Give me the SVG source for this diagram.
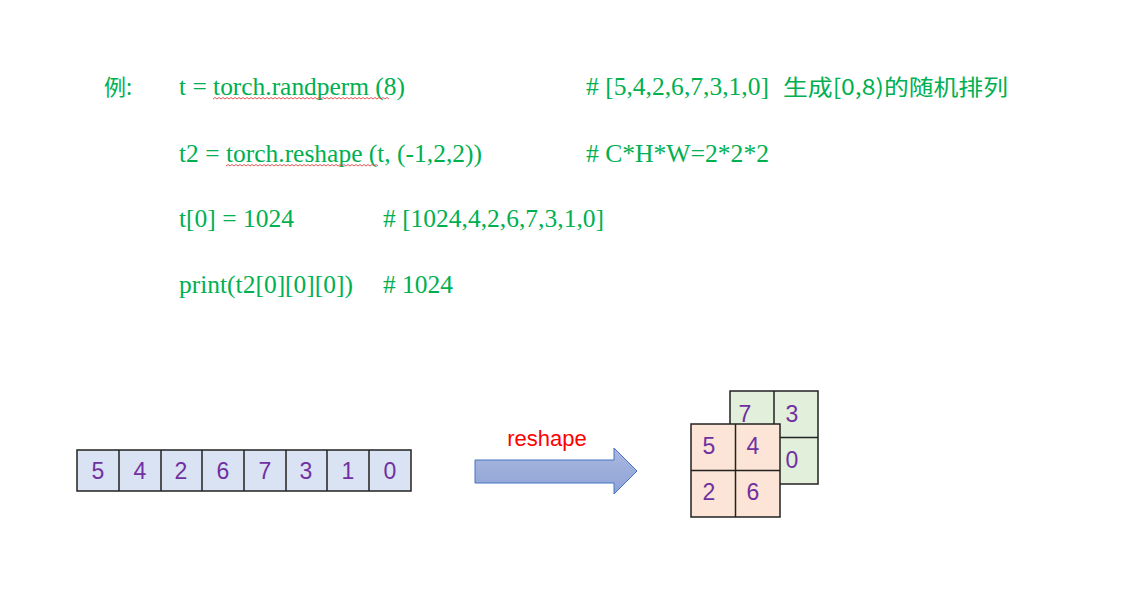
<svg xmlns="http://www.w3.org/2000/svg" width="1121" height="595" viewBox="0 0 1121 595">
<defs>
<style>
.code{font-family:"Liberation Serif","Noto Sans CJK SC",serif;font-size:25px;fill:#00B050}
.cjk{font-family:"Noto Sans CJK SC",sans-serif;font-size:22px;fill:#00B050}
.num{font-family:"Liberation Sans",Arial,sans-serif;font-size:23px;fill:#7030A0;text-anchor:middle}
.cell{stroke:#222;stroke-width:1.5}
.wavy{fill:none;stroke:#e03030;stroke-width:0.8}
</style>
<linearGradient id="ag" x1="0" y1="0" x2="0" y2="1">
<stop offset="0" stop-color="#a9b8e0"/><stop offset="1" stop-color="#8fa3d6"/>
</linearGradient>
</defs>
<rect width="1121" height="595" fill="#fff"/>
<g id="code">
<text class="cjk" x="104" y="95">例:</text>
<text class="code" x="179" y="95" textLength="226" lengthAdjust="spacingAndGlyphs">t = torch.randperm (8)</text>
<text class="code" x="586" y="95" textLength="183" lengthAdjust="spacingAndGlyphs">#  [5,4,2,6,7,3,1,0]</text>
<text class="cjk" x="783" y="95" textLength="225" lengthAdjust="spacingAndGlyphs">生成[0,8)的随机排列</text>
<text class="code" x="179" y="162" textLength="303" lengthAdjust="spacingAndGlyphs">t2 = torch.reshape (t, (-1,2,2))</text>
<text class="code" x="586" y="162" textLength="183" lengthAdjust="spacingAndGlyphs">#  C*H*W=2*2*2</text>
<text class="code" x="179" y="227" textLength="115" lengthAdjust="spacingAndGlyphs">t[0] = 1024</text>
<text class="code" x="383" y="227" textLength="221" lengthAdjust="spacingAndGlyphs">#  [1024,4,2,6,7,3,1,0]</text>
<text class="code" x="179" y="293" textLength="174" lengthAdjust="spacingAndGlyphs">print(t2[0][0][0])</text>
<text class="code" x="383" y="293" textLength="70" lengthAdjust="spacingAndGlyphs">#  1024</text>
<path class="wavy" d="M213 99l2 -1.5l2 1.5l2 -1.5l2 1.5l2 -1.5l2 1.5l2 -1.5l2 1.5l2 -1.5l2 1.5l2 -1.5l2 1.5l2 -1.5l2 1.5l2 -1.5l2 1.5l2 -1.5l2 1.5l2 -1.5l2 1.5l2 -1.5l2 1.5l2 -1.5l2 1.5l2 -1.5l2 1.5l2 -1.5l2 1.5l2 -1.5l2 1.5l2 -1.5l2 1.5l2 -1.5l2 1.5l2 -1.5l2 1.5l2 -1.5l2 1.5l2 -1.5l2 1.5l2 -1.5l2 1.5l2 -1.5l2 1.5l2 -1.5l2 1.5l2 -1.5l2 1.5l2 -1.5l2 1.5l2 -1.5l2 1.5l2 -1.5l2 1.5l2 -1.5l2 1.5l2 -1.5l2 1.5l2 -1.5l2 1.5l2 -1.5l2 1.5l2 -1.5l2 1.5l2 -1.5l2 1.5l2 -1.5l2 1.5l2 -1.5l2 1.5l2 -1.5l2 1.5l2 -1.5l2 1.5l2 -1.5l2 1.5l2 -1.5l2 1.5l2 -1.5l2 1.5l2 -1.5l2 1.5l2 -1.5l2 1.5l2 -1.5l2 1.5l2 -1.5l2 1.5"/>
<path class="wavy" d="M226 166l2 -1.5l2 1.5l2 -1.5l2 1.5l2 -1.5l2 1.5l2 -1.5l2 1.5l2 -1.5l2 1.5l2 -1.5l2 1.5l2 -1.5l2 1.5l2 -1.5l2 1.5l2 -1.5l2 1.5l2 -1.5l2 1.5l2 -1.5l2 1.5l2 -1.5l2 1.5l2 -1.5l2 1.5l2 -1.5l2 1.5l2 -1.5l2 1.5l2 -1.5l2 1.5l2 -1.5l2 1.5l2 -1.5l2 1.5l2 -1.5l2 1.5l2 -1.5l2 1.5l2 -1.5l2 1.5l2 -1.5l2 1.5l2 -1.5l2 1.5l2 -1.5l2 1.5l2 -1.5l2 1.5l2 -1.5l2 1.5l2 -1.5l2 1.5l2 -1.5l2 1.5l2 -1.5l2 1.5l2 -1.5l2 1.5l2 -1.5l2 1.5l2 -1.5l2 1.5l2 -1.5l2 1.5l2 -1.5l2 1.5l2 -1.5l2 1.5l2 -1.5l2 1.5l2 -1.5l2 1.5l2 -1.5l2 1.5"/>
</g>
<g id="row">
<rect x="77" y="450" width="334" height="41" fill="#dae3f3" stroke="#222" stroke-width="1.5"/>
<path class="cell" d="M119 450V491M161 450V491M202 450V491M244 450V491M286 450V491M327 450V491M369 450V491"/>
<text class="num" x="98" y="479">5</text><text class="num" x="140" y="479">4</text><text class="num" x="181" y="479">2</text><text class="num" x="223" y="479">6</text><text class="num" x="265" y="479">7</text><text class="num" x="306" y="479">3</text><text class="num" x="348" y="479">1</text><text class="num" x="390" y="479">0</text>
</g>
<g id="connectors">
<path d="M475 460H614V448L637 471L614 494V483H475Z" fill="url(#ag)" stroke="#4472c4" stroke-width="1"/>
<text x="547" y="446" font-family="Liberation Sans,Arial,sans-serif" font-size="22" fill="#ff0000" text-anchor="middle">reshape</text>
</g>
<g id="back">
<rect x="730" y="391" width="88" height="93" fill="#e2efda" stroke="#222" stroke-width="1.5"/>
<path class="cell" d="M774 391V484M730 437.5H818"/>
<text class="num" x="745" y="422">7</text><text class="num" x="792" y="422">3</text><text class="num" x="792" y="468">0</text>
</g>
<g id="front">
<rect x="691" y="424" width="89" height="93" fill="#fce4d6" stroke="#222" stroke-width="1.5"/>
<path class="cell" d="M735.5 424V517M691 470.5H780"/>
<text class="num" x="709" y="454">5</text><text class="num" x="753" y="454">4</text><text class="num" x="709" y="500">2</text><text class="num" x="753" y="500">6</text>
</g>
</svg>
